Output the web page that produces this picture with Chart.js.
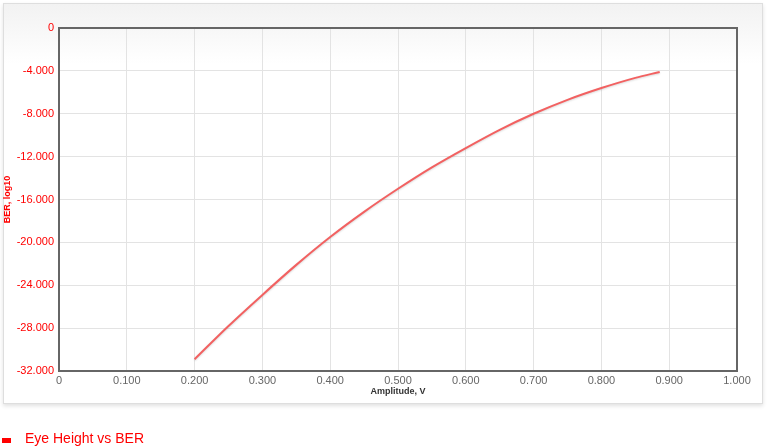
<!DOCTYPE html>
<html>
<head>
<meta charset="utf-8">
<script src="https://cdn.jsdelivr.net/npm/chart.js@4/dist/chart.umd.min.js"></script>
<style>
  html, body { margin: 0; padding: 0; background: #fff; }
  body { width: 768px; height: 447px; position: relative; overflow: hidden; font-family: "Liberation Sans", Arial, sans-serif; }
  #panel { position: absolute; left: 3px; top: 3px; width: 758px; height: 399px; border: 1px solid #dedede;
           background: linear-gradient(#f2f2f2 0px, #ffffff 60px); box-shadow: 0 2px 4px rgba(0,0,0,0.12); }
  #wrap { position: absolute; left: 0; top: 0; width: 768px; height: 447px; }
  #legend { position: absolute; left: 2px; top: 429px; height: 18px; display: flex; align-items: center; color: #ff0000; font-size: 14px; }
  #legend .sw { width: 9px; height: 5px; background: #ff0000; margin-right: 14px; margin-top: 4px; }
</style>
</head>
<body>
<div id="panel"></div>
<div id="wrap"><canvas id="c" width="768" height="447"></canvas></div>
<div id="legend"><span class="sw"></span><span>Eye Height vs BER</span></div>
<script>
const seriesName = "Eye Height vs BER";
const amplitude = [0.200, 0.250, 0.300, 0.350, 0.400, 0.450, 0.500, 0.550, 0.600, 0.650, 0.700, 0.750, 0.800, 0.850, 0.886];
const berLog10  = [-30.90, -27.80, -24.90, -22.10, -19.50, -17.15, -15.00, -13.00, -11.20, -9.50, -8.00, -6.70, -5.60, -4.65, -4.10];
const yTicks = [0, -4, -8, -12, -16, -20, -24, -28, -32];
const xTicks = [0, 0.1, 0.2, 0.3, 0.4, 0.5, 0.6, 0.7, 0.8, 0.9, 1.0];

const points = amplitude.map((a, i) => ({ x: a, y: berLog10[i] }));

const frame = {
  id: 'frame',
  afterDraw(chart) {
    const { ctx, chartArea: a } = chart;
    ctx.save();
    ctx.strokeStyle = '#666666';
    ctx.lineWidth = 2;
    ctx.strokeRect(a.left, a.top, a.right - a.left, a.bottom - a.top);
    ctx.restore();
  }
};
const lineShadow = {
  id: 'lineShadow',
  beforeDatasetDraw(chart) {
    const ctx = chart.ctx;
    ctx.save();
    ctx.shadowColor = 'rgba(0,0,0,0.15)';
    ctx.shadowBlur = 2;
    ctx.shadowOffsetY = 1;
  },
  afterDatasetDraw(chart) { chart.ctx.restore(); }
};

new Chart(document.getElementById('c'), {
  type: 'line',
  data: {
    datasets: [{
      label: seriesName,
      data: points,
      borderColor: '#f26161',
      borderWidth: 2,
      pointRadius: 0,
      fill: false,
      cubicInterpolationMode: 'monotone'
    }]
  },
  options: {
    responsive: false,
    animation: false,
    devicePixelRatio: 1,
    layout: { padding: { left: 0, right: 31, top: 28, bottom: 50 } },
    plugins: { legend: { display: false }, tooltip: { enabled: false } },
    scales: {
      x: {
        type: 'linear', min: 0, max: 1,
        afterBuildTicks(s) { s.ticks = xTicks.map(v => ({ value: v })); },
        afterFit(s) { s.height = 26; },
        grid: { color: '#e3e3e3', lineWidth: 1, drawTicks: false },
        border: { display: false },
        ticks: {
          color: '#666666', font: { family: 'Liberation Sans', size: 11 }, padding: 3, maxRotation: 0,
          callback: v => v === 0 ? '0' : Number(v).toFixed(3)
        },
        title: { display: true, text: 'Amplitude, V', color: '#333333', padding: { top: 0, bottom: 0 },
                 font: { family: 'Liberation Sans', size: 9, weight: 'bold' } }
      },
      y: {
        type: 'linear', min: -32, max: 0,
        afterBuildTicks(s) { s.ticks = yTicks.slice().reverse().map(v => ({ value: v })); },
        afterFit(s) { s.width = 59; },
        grid: { color: '#e3e3e3', lineWidth: 1, drawTicks: false },
        border: { display: false },
        ticks: {
          color: '#ff0000', font: { family: 'Liberation Sans', size: 11 }, padding: 5,
          callback: v => v === 0 ? '0' : Number(v).toFixed(3)
        },
        title: { display: true, text: 'BER, log10', color: '#ff0000', padding: { top: 2, bottom: 0 },
                 font: { family: 'Liberation Sans', size: 9, weight: 'bold' } }
      }
    }
  },
  plugins: [lineShadow, frame]
});
</script>
</body>
</html>
